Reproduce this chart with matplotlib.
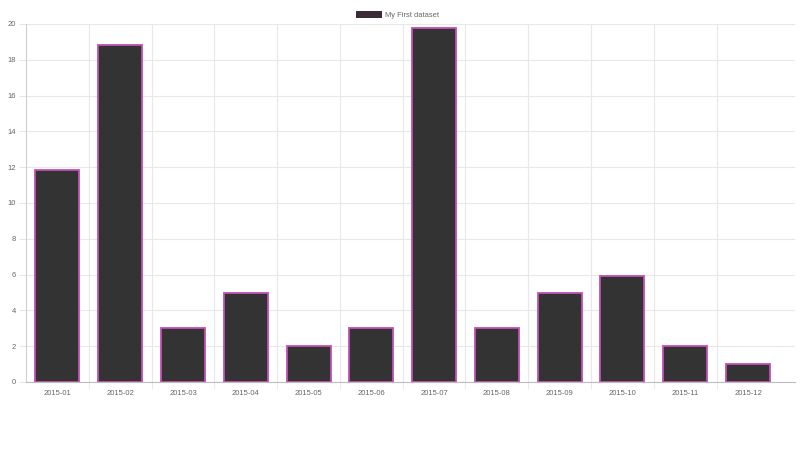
import matplotlib
matplotlib.use("Agg")
import matplotlib.pyplot as plt
from matplotlib.patches import Patch

categories = ["2015-01", "2015-02", "2015-03", "2015-04", "2015-05", "2015-06",
              "2015-07", "2015-08", "2015-09", "2015-10", "2015-11", "2015-12"]
values = [11.85, 18.8, 3, 4.95, 2, 3, 19.8, 3, 4.95, 5.93, 2, 1]
series_name = "My First dataset"

plt.rcParams['font.family'] = ['Liberation Sans', 'DejaVu Sans']

fig = plt.figure(figsize=(8, 4.5), dpi=100)
ax = fig.add_axes([26/800, (450-382)/450, (795-26)/800, (382-24)/450])

fill = "#333333"
edge = "#c24fb5"
n = len(categories)
x = list(range(n))
ax.bar(x, values, width=0.7, color=fill, edgecolor=edge, linewidth=1.3, zorder=3)

step = (748 - 57) / 11.0
ax.set_xlim(-0.5, (n - 0.5) + (795 - 779.4) / step)
ax.set_ylim(0, 20)
ax.set_yticks(range(0, 21, 2))
ax.set_xticks(x)
ax.set_xticklabels(categories)
ax.set_xticks([i - 0.5 for i in range(1, n)], minor=True)

ax.tick_params(axis='x', which='major', length=0, pad=6, labelsize=5.5, labelcolor="#666666")
ax.tick_params(axis='x', which='minor', length=5, color="#e6e6e6")
ax.tick_params(axis='y', length=5, color="#e6e6e6", pad=2, labelsize=5.5, labelcolor="#666666")

ax.grid(True, which='minor', axis='x', color="#e8e8e8", linewidth=0.8, zorder=0)
ax.grid(True, which='major', axis='y', color="#e8e8e8", linewidth=0.8, zorder=0)
ax.grid(False, which='major', axis='x')

for s in ['top', 'right']:
    ax.spines[s].set_visible(False)
ax.spines['left'].set_color("#cfcfcf")
ax.spines['bottom'].set_color("#bdbdbd")

handle = Patch(facecolor="#3a2b37", edgecolor="#3a2b37", linewidth=0)
fig.legend([handle], [series_name], loc='center', bbox_to_anchor=(0.497, 1 - 15/450),
           frameon=False, fontsize=5.4, labelcolor="#666666",
           handlelength=3.5, handleheight=1.0, handletextpad=0.35)

fig.savefig("out.png", dpi=100)
